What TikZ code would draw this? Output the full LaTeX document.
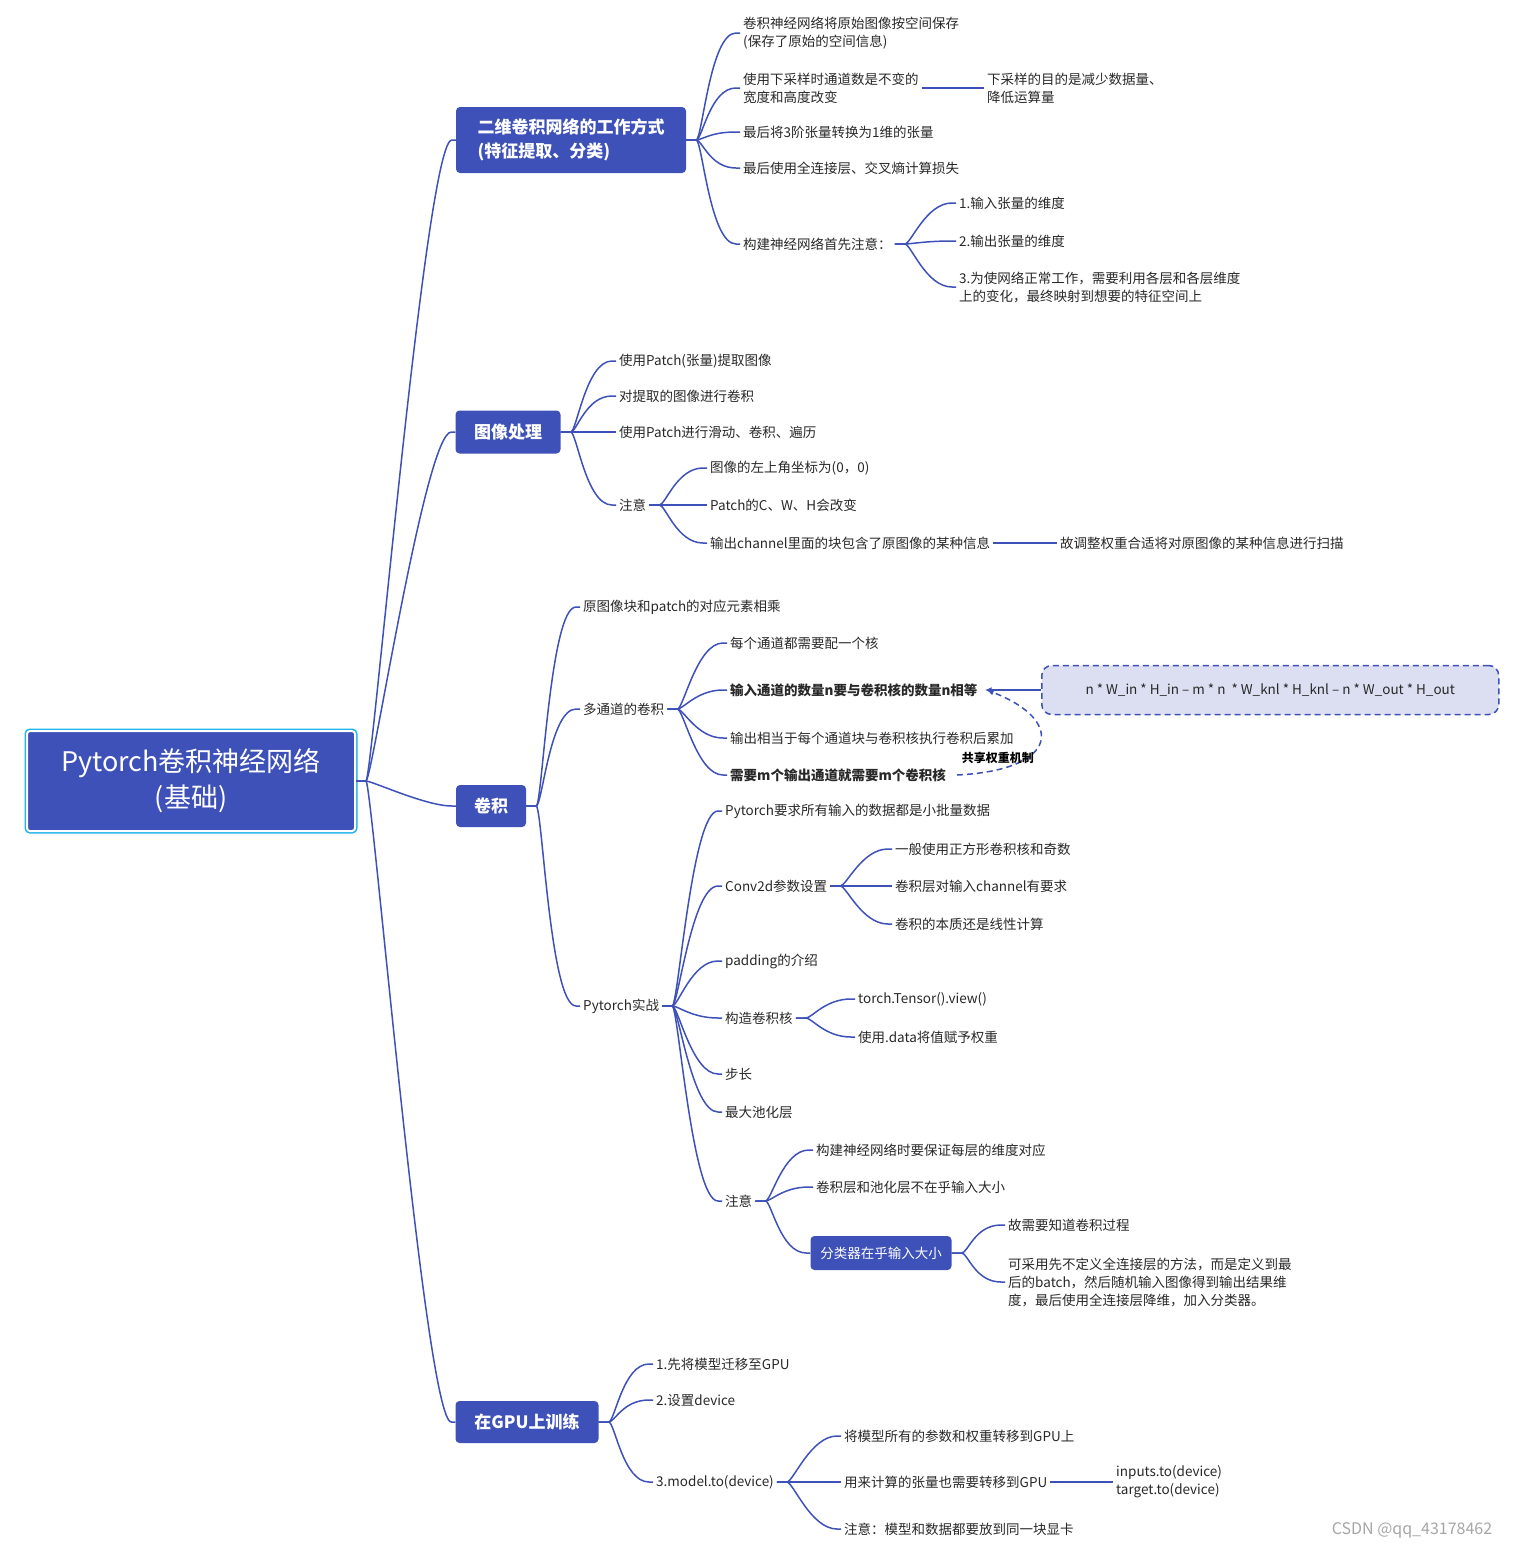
\documentclass[tikz,border=0pt]{standalone}
\usepackage{fontspec}
\setmainfont{Noto Sans CJK SC}
\usetikzlibrary{calc,arrows.meta}
\definecolor{mblue}{RGB}{61,81,184}
\definecolor{rootcyan}{RGB}{30,180,234}
\definecolor{lav}{RGB}{220,223,242}
\definecolor{txt}{RGB}{40,40,40}
\tikzset{
  root/.style={fill=mblue, draw=white, line width=2pt, rounded corners=3pt,
    preaction={draw=rootcyan, line width=5pt},
    minimum width=328, minimum height=100, align=center, text=white,
    font=\fontsize{27}{36}\selectfont},
  topic/.style={fill=mblue, rounded corners=4pt, text=white, align=left,
    font=\bfseries\fontsize{17}{24}\selectfont},
  leaf/.style={anchor=west, inner sep=3pt, align=left, text=txt,
    font=\fontsize{13.5}{18}\selectfont},
  conn/.style={draw=mblue, line width=1.5pt,
    to path={(\tikztostart) -- ($(\tikztostart)+(10,0)$)
      .. controls ($(\tikztostart)+(16,0)$) and ($(\tikztotarget)+(-30,0)$)
      .. ($(\tikztotarget)+(-4,0)$) -- (\tikztotarget)}},
  line/.style={draw=mblue, line width=1.5pt}
}
\begin{document}
\begin{tikzpicture}[x=1pt,y=-1pt]
  \useasboundingbox (0,0) rectangle (1526,1550);
  % root and main topics
  \node[root] (root) at (191,781) {Pytorch卷积神经网络\\(基础)};
  \node[topic, minimum width=230, minimum height=66] (work) at (571,140) {二维卷积网络的工作方式\\(特征提取、分类)};
  \node[topic, minimum width=105, minimum height=43] (img) at (508,432) {图像处理};
  \node[topic, minimum width=70, minimum height=42] (conv) at (491,806) {卷积};
  \node[topic, minimum width=143, minimum height=42] (gpu) at (527,1422) {在GPU上训练};
  \foreach \t in {work,img,conv,gpu}
    \draw[conn] (root.east) to (\t.west);

  % working mode
  \node[leaf] (w1) at (740,33) {卷积神经网络将原始图像按空间保存\\(保存了原始的空间信息)};
  \node[leaf] (w2) at (740,88) {使用下采样时通道数是不变的\\宽度和高度改变};
  \node[leaf] (w2a) at (984,88) {下采样的目的是减少数据量、\\降低运算量};
  \node[leaf] (w3) at (740,132) {最后将3阶张量转换为1维的张量};
  \node[leaf] (w4) at (740,168) {最后使用全连接层、交叉熵计算损失};
  \node[leaf] (w5) at (740,244) {构建神经网络首先注意：};
  \node[leaf] (w5a) at (956,203) {1.输入张量的维度};
  \node[leaf] (w5b) at (956,241) {2.输出张量的维度};
  \node[leaf] (w5c) at (956,287) {3.为使网络正常工作，需要利用各层和各层维度\\上的变化，最终映射到想要的特征空间上};
  \foreach \t in {w1,w2,w3,w4,w5}
    \draw[conn] (work.east) to (\t.west);
  \foreach \t in {w5a,w5b,w5c}
    \draw[conn] (w5.east) to (\t.west);
  \draw[line] (w2) -- (w2a);

  % image processing
  \node[leaf] (i1) at (616,361) {使用Patch(张量)提取图像};
  \node[leaf] (i2) at (616,396) {对提取的图像进行卷积};
  \node[leaf] (i3) at (616,432) {使用Patch进行滑动、卷积、遍历};
  \node[leaf] (i4) at (616,505) {注意};
  \node[leaf] (i4a) at (707,468) {图像的左上角坐标为(0，0)};
  \node[leaf] (i4b) at (707,505) {Patch的C、W、H会改变};
  \node[leaf] (i4c) at (707,543) {输出channel里面的块包含了原图像的某种信息};
  \node[leaf] (i4d) at (1057,543) {故调整权重合适将对原图像的某种信息进行扫描};
  \foreach \t in {i1,i2,i3,i4}
    \draw[conn] (img.east) to (\t.west);
  \foreach \t in {i4a,i4b,i4c}
    \draw[conn] (i4.east) to (\t.west);
  \draw[line] (i4c) -- (i4d);

  % convolution
  \node[leaf] (c1) at (580,607) {原图像块和patch的对应元素相乘};
  \node[leaf] (c2) at (580,709) {多通道的卷积};
  \node[leaf] (c3) at (580,1006) {Pytorch实战};
  \foreach \t in {c1,c2,c3}
    \draw[conn] (conv.east) to (\t.west);
  \node[leaf] (m1) at (727,643) {每个通道都需要配一个核};
  \node[leaf, font=\bfseries\fontsize{13.5}{18}\selectfont] (m2) at (727,690) {输入通道的数量n要与卷积核的数量n相等};
  \node[leaf] (m3) at (727,738) {输出相当于每个通道块与卷积核执行卷积后累加};
  \node[leaf, font=\bfseries\fontsize{13.5}{18}\selectfont] (m4) at (727,775) {需要m个输出通道就需要m个卷积核};
  \foreach \t in {m1,m2,m3,m4}
    \draw[conn] (c2.east) to (\t.west);
  \node[anchor=west, fill=lav, draw=mblue, line width=1.5pt, dash pattern=on 6pt off 4pt,
    rounded corners=10pt, minimum width=457, minimum height=49, inner sep=12pt,
    text=txt, font=\fontsize{13.5}{18}\selectfont] (shr) at (1041,690)
    {n * W\_in * H\_in -- m * n \ * W\_knl * H\_knl -- n * W\_out * H\_out};
  \draw[line, -{Latex[length=7pt,width=6pt]}] (shr.west) -- ($(m2.east)+(4,0)$);
  \draw[draw=mblue, line width=1.5pt, dash pattern=on 6pt off 4pt, -{Latex[length=7pt,width=6pt]}]
    ($(m4.east)+(8,0)$) .. controls (1060,770) and (1065,720) .. ($(m2.east)+(6,0)$)
    node[pos=0.42, below left=-2pt, text=black, font=\bfseries\fontsize{12}{14}\selectfont] (shrlbl) {共享权重机制};

  % pytorch practice
  \node[leaf] (p1) at (722,811) {Pytorch要求所有输入的数据都是小批量数据};
  \node[leaf] (p2) at (722,886) {Conv2d参数设置};
  \node[leaf] (p3) at (722,961) {padding的介绍};
  \node[leaf] (p4) at (722,1018) {构造卷积核};
  \node[leaf] (p5) at (722,1074) {步长};
  \node[leaf] (p6) at (722,1112) {最大池化层};
  \node[leaf] (p7) at (722,1201) {注意};
  \foreach \t in {p1,p2,p3,p4,p5,p6,p7}
    \draw[conn] (c3.east) to (\t.west);
  \node[leaf] (p2a) at (892,849) {一般使用正方形卷积核和奇数};
  \node[leaf] (p2b) at (892,886) {卷积层对输入channel有要求};
  \node[leaf] (p2c) at (892,924) {卷积的本质还是线性计算};
  \foreach \t in {p2a,p2b,p2c}
    \draw[conn] (p2.east) to (\t.west);
  \node[leaf] (p4a) at (855,999) {torch.Tensor().view()};
  \node[leaf] (p4b) at (855,1037) {使用.data将值赋予权重};
  \foreach \t in {p4a,p4b}
    \draw[conn] (p4.east) to (\t.west);
  \node[leaf] (p7a) at (813,1150) {构建神经网络时要保证每层的维度对应};
  \node[leaf] (p7b) at (813,1187) {卷积层和池化层不在乎输入大小};
  \node[topic, font=\fontsize{13.5}{18}\selectfont, minimum width=141, minimum height=34] (p7c) at (881,1253) {分类器在乎输入大小};
  \foreach \t in {p7a,p7b,p7c}
    \draw[conn] (p7.east) to (\t.west);
  \node[leaf] (p7c1) at (1005,1225) {故需要知道卷积过程};
  \node[leaf] (p7c2) at (1005,1282) {可采用先不定义全连接层的方法，而是定义到最\\后的batch，然后随机输入图像得到输出结果维\\度，最后使用全连接层降维，加入分类器。};
  \foreach \t in {p7c1,p7c2}
    \draw[conn] (p7c.east) to (\t.west);

  % gpu training
  \node[leaf] (g1) at (653,1364) {1.先将模型迁移至GPU};
  \node[leaf] (g2) at (653,1400) {2.设置device};
  \node[leaf] (g3) at (653,1482) {3.model.to(device)};
  \foreach \t in {g1,g2,g3}
    \draw[conn] (gpu.east) to (\t.west);
  \node[leaf] (g3a) at (841,1436) {将模型所有的参数和权重转移到GPU上};
  \node[leaf] (g3b) at (841,1482) {用来计算的张量也需要转移到GPU};
  \node[leaf] (g3c) at (841,1529) {注意：模型和数据都要放到同一块显卡};
  \node[leaf] (g3d) at (1113,1482) {inputs.to(device)\\target.to(device)};
  \foreach \t in {g3a,g3b,g3c}
    \draw[conn] (g3.east) to (\t.west);
  \draw[line] (g3b) -- (g3d);

  \node[text=gray!70, font=\fontsize{16}{18}\selectfont] (mark) at (1412,1530) {CSDN @qq\_43178462};
\end{tikzpicture}
\end{document}
